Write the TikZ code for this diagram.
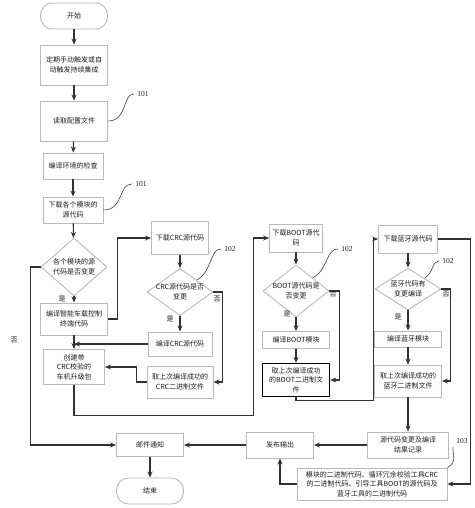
\documentclass[tikz,border=0pt]{standalone}
\usepackage{fontspec}
\setmainfont{Liberation Serif}
\newfontfamily\cjk{Noto Sans CJK SC}
\usetikzlibrary{shapes.geometric, arrows.meta}
\definecolor{griBord}{RGB}{185, 185, 185}
\definecolor{griTrait}{RGB}{50, 50, 50}
\definecolor{noirTexte}{RGB}{30, 30, 30}

\begin{document}
\begin{tikzpicture}[x=1pt, y=-1pt,
  box/.style={rectangle, draw=griBord, fill=white, line width=0.9pt,
    minimum width=67pt, minimum height=26pt, inner sep=1pt,
    align=center, font=\cjk\fontsize{7}{9.6}\selectfont, text=noirTexte},
  term/.style={box, rounded corners=12pt},
  dec/.style={diamond, draw=griBord, fill=white, line width=0.9pt,
    aspect=1, inner xsep=-16pt, inner ysep=-8pt,
    align=center, font=\cjk\fontsize{7}{9.6}\selectfont, text=noirTexte},
  fort/.style={draw=black, line width=1.4pt},
  arr/.style={-{Stealth[length=6pt, width=5pt]}, line width=1.05pt, draw=griTrait},
  crb/.style={draw=griTrait, line width=0.55pt},
  lbl/.style={font=\cjk\fontsize{7}{8}\selectfont, text=noirTexte},
  num/.style={font=\fontsize{7.5}{8}\selectfont, text=noirTexte},
]
\useasboundingbox (0,0) rectangle (474,508);

\node[term] (start) at (74,16) {开始};
\node[box, minimum height=40pt] (trig) at (74,65)
  {定期手动触发或自\\动触发持续集成};
\node[box, minimum height=40pt] (cfg) at (74,121) {读取配置文件};
\node[box, minimum width=60pt] (env) at (73,166) {编译环境的检查};
\node[box, minimum width=60pt] (dlall) at (73,210)
  {下载各个模块的\\源代码};
\node[dec, minimum width=66pt, minimum height=58pt] (chgall) at (74,267)
  {各个模块的源\\代码是否变更};
\node[box, minimum height=32pt] (bldterm) at (74,319)
  {编译智能车载控制\\终端代码};
\node[box, minimum width=61pt, minimum height=35pt] (pkg) at (74,367)
  {创建带\\CRC校验的\\车机升级包};

\node[box, minimum width=57pt, minimum height=33pt] (dlcrc) at (180,238)
  {下载CRC源代码};
\node[dec, minimum width=66pt, minimum height=47pt] (chgcrc) at (180,292)
  {CRC源代码是否\\变更};
\node[box, minimum width=64pt, minimum height=24pt] (bldcrc) at (180,344)
  {编译CRC源代码};
\node[box, minimum width=66pt, minimum height=32pt] (bincrc) at (180,382)
  {取上次编译成功的\\CRC二进制文件};

\node[box, minimum width=53pt, minimum height=28pt] (dlboot) at (296,238)
  {下载BOOT源代\\码};
\node[dec, minimum width=66pt, minimum height=52pt] (chgboot) at (296,291)
  {BOOT源代码是\\否变更};
\node[box, minimum height=17pt] (bldboot) at (296,340) {编译BOOT模块};
\node[box, fort, minimum height=33pt] (binboot) at (296,380)
  {取上次编译成功\\的BOOT二进制文\\件};

\node[box, minimum width=59pt, minimum height=28pt] (dlbt) at (408,239)
  {下载蓝牙源代码};
\node[dec, minimum width=66pt, minimum height=42pt] (chgbt) at (408,289)
  {蓝牙代码有\\变更编译};
\node[box, minimum height=16pt] (bldbt) at (408,339) {编译蓝牙模块};
\node[box, minimum height=32pt] (binbt) at (408,381)
  {取上次编译成功的\\蓝牙二进制文件};
\node[box, minimum width=81pt] (rec) at (408,445)
  {源代码变更及编译\\结果记录};

\node[box] (pub) at (280,445) {发布输出};
\node[box, minimum height=23pt] (mail) at (150,445) {邮件通知};
\node[term] (stop) at (150,491) {结束};
\node[box, minimum width=150pt, minimum height=32pt] (out) at (372,484)
  {模块的二进制代码、循环冗余校验工具CRC\\的二进制代码、引导工具BOOT的源代码及\\蓝牙工具的二进制代码};

\node[num] (n101a) at (143,94) {101};
\node[num] (n101b) at (141,184) {101};
\node[num] (n102a) at (230,249) {102};
\node[num] (n102b) at (347,249) {102};
\node[num] (n102c) at (448,261) {102};
\node[num] (n103) at (462,441) {103};

\node[lbl] (oui1) at (62,299) {是};
\node[lbl] (non1) at (14,340) {否};
\node[lbl] (oui2) at (170,319) {是};
\node[lbl] (non2) at (217,299) {否};
\node[lbl] (oui3) at (287,314) {是};
\node[lbl] (non3) at (333,294) {否};
\node[lbl] (oui4) at (398,317) {是};
\node[lbl] (non4) at (446,294) {否};

\draw[arr] (start) -- (trig);
\draw[arr] (trig) -- (cfg);
\draw[arr] (cfg) -- (env);
\draw[arr] (env) -- (dlall);
\draw[arr] (dlall) -- (chgall);
\draw[arr] (chgall) -- (bldterm);
\draw[arr] (chgall.west) -- ++(-10,0) |- (mail.west);
\draw[arr] (bldterm) -- (pkg);
\draw[arr] (bldterm.east) -- ++(10,0) |- (dlcrc.west);

\draw[arr] (dlcrc) -- (chgcrc);
\draw[arr] (chgcrc) -- (bldcrc);
\draw[arr] (chgcrc.east) -- ++(9,0) |- (bincrc.east);
\draw[arr] (bldcrc.west) -- (bldterm.south |- bldcrc.west);
\draw[arr] (bincrc.west) -- ++(-10,0) |- (pkg.east);
\draw[arr] (pkg.south) -- ++(0,31) -| ([xshift=-16pt]dlboot.west)
  -- (dlboot.west);

\draw[arr] (dlboot) -- (chgboot);
\draw[arr] (chgboot) -- (bldboot);
\draw[arr] (chgboot.east) -- ++(10,0) |- (binboot.east);
\draw[arr] (bldboot) -- (binboot);
\draw[arr] (binboot.south) -- ++(0,3) -| ([xshift=-5pt]dlbt.west)
  -- (dlbt.west);

\draw[arr] (dlbt) -- (chgbt);
\draw[arr] (chgbt) -- (bldbt);
\draw[arr] (chgbt.east) -- ++(9,0) |- (binbt.east);
\draw[arr] (bldbt) -- (binbt);
\draw[arr] (binbt) -- (rec);
\draw[arr] (dlbt.east) -- ++(33,0) |- (out.east);

\draw[arr] (rec) -- (pub);
\draw[arr] (pub) -- (mail);
\draw[arr] (mail) -- (stop);
\draw[arr] (out.west) -| (pub.south);

\draw[crb] (cfg.east) .. controls (128,121) and (122,94) .. (n101a.west);
\draw[crb] (dlall.east) .. controls (124,210) and (118,184) .. (n101b.west);
\draw[crb] (chgcrc.north east) .. controls (212,272) and (210,249) .. (n102a.west);
\draw[crb] (chgboot.north east) .. controls (328,270) and (326,249) .. (n102b.west);
\draw[crb] (chgbt.north east) .. controls (434,272) and (432,261) .. (n102c.west);
\draw[crb] (out.north east) .. controls (458,462) and (452,452) .. (n103.south west);
\end{tikzpicture}
\end{document}
